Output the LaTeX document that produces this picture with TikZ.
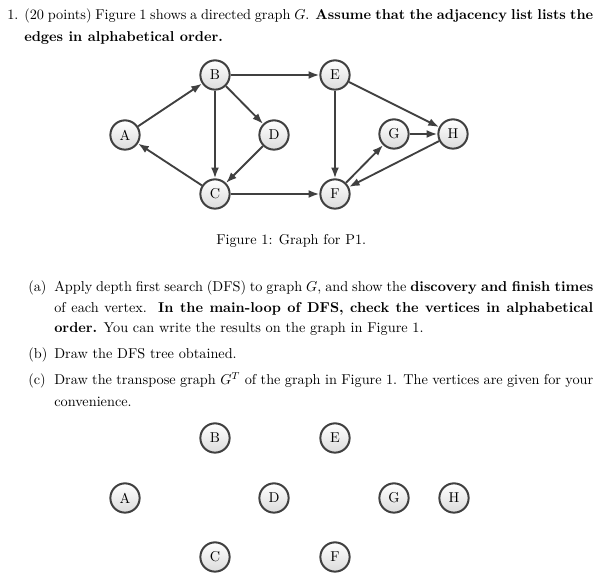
\documentclass[tikz,border=0pt]{standalone}
\usepackage{amsmath}
\usepackage{tikz}
\usetikzlibrary{arrows.meta}

\tikzset{
  vtx/.style={circle,draw=black!75,line width=1.4pt,top color=white,bottom color=black!14,
    minimum size=20.5pt,inner sep=0pt},
  link/.style={->,draw=black!75,line width=1.3pt},
  txt/.style={anchor=base west,inner sep=0pt},
}

\begin{document}
\begin{tikzpicture}[x=0.7pt,y=-0.7pt,>={Latex[length=7.5pt,width=5.5pt]}]
  \useasboundingbox (0,0) rectangle (605,583);

  % problem statement
  \node (n1)  [txt] at (7,20)  {1.};
  \node (l1)  [txt] at (24,20) {\makebox[398.3pt][s]{(20 points) Figure 1 shows a directed graph $G$. \textbf{Assume that the adjacency list lists the}}};
  \node (l2)  [txt] at (24,42) {\textbf{edges in alphabetical order.}};

  % graph G
  \node (a) [vtx] at (125,135) {A};
  \node (b) [vtx] at (215,75)  {B};
  \node (c) [vtx] at (215,194) {C};
  \node (d) [vtx] at (274,135) {D};
  \node (e) [vtx] at (335,75)  {E};
  \node (f) [vtx] at (335,194) {F};
  \node (g) [vtx] at (394,134) {G};
  \node (h) [vtx] at (453,134) {H};
  \draw[link] (a) -- (b);
  \draw[link] (b) -- (c);
  \draw[link] (b) -- (d);
  \draw[link] (b) -- (e);
  \draw[link] (c) -- (a);
  \draw[link] (c) -- (f);
  \draw[link] (d) -- (c);
  \draw[link] (e) -- (f);
  \draw[link] (e) -- (h);
  \draw[link] (f) -- (g);
  \draw[link] (g) -- (h);
  \draw[link] (h) -- (f);

  \node (cap) [txt] at (216,245) {Figure 1: Graph for P1.};

  % parts
  \node (pa)  [txt] at (28,292) {(a)};
  \node (a1)  [txt] at (54,292) {\makebox[377.3pt][s]{Apply depth first search (DFS) to graph $G$, and show the \textbf{discovery and finish times}}};
  \node (a2)  [txt] at (54,313) {\makebox[377.3pt][s]{of each vertex.\ \ \textbf{In the main-loop of DFS, check the vertices in alphabetical}}};
  \node (a3)  [txt] at (54,333) {\textbf{order.} You can write the results on the graph in Figure 1.};
  \node (pb)  [txt] at (28,359) {(b)};
  \node (b1)  [txt] at (54,359) {Draw the DFS tree obtained.};
  \node (pc)  [txt] at (28,385) {(c)};
  \node (c1)  [txt] at (54,385) {\makebox[377.3pt][s]{Draw the transpose graph $G^T$ of the graph in Figure 1. The vertices are given for your}};
  \node (c2)  [txt] at (54,407) {convenience.};

  % vertices for the transpose
  \node (ta) [vtx] at (125,498) {A};
  \node (tb) [vtx] at (215,438) {B};
  \node (tc) [vtx] at (215,557) {C};
  \node (td) [vtx] at (274,498) {D};
  \node (te) [vtx] at (335,438) {E};
  \node (tf) [vtx] at (335,557) {F};
  \node (tg) [vtx] at (394,498) {G};
  \node (th) [vtx] at (454,498) {H};
\end{tikzpicture}
\end{document}
